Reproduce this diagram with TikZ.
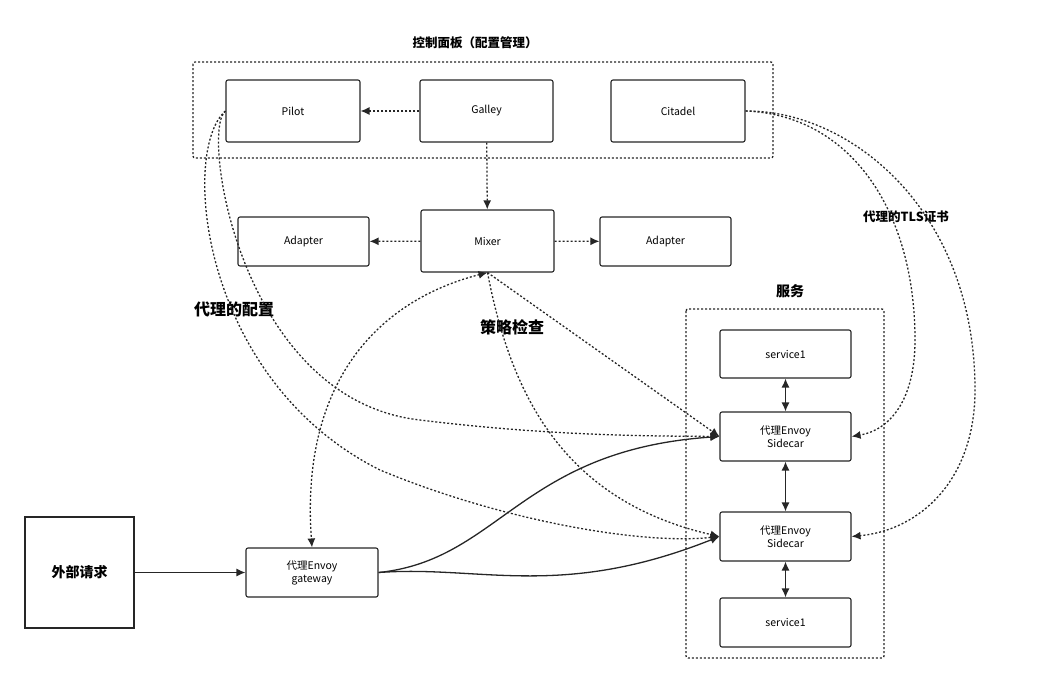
\documentclass[tikz,border=0pt]{standalone}
\usepackage{fontspec}
\setmainfont{Noto Sans CJK SC}
\usetikzlibrary{arrows.meta}
\begin{document}
\begin{tikzpicture}[x=1pt,y=-1pt,
  tip/.style={},
  box/.style={draw=black!85,line width=1.1pt,rounded corners=2pt,fill=white,font=\fontsize{10.5}{13}\selectfont,align=center,inner sep=0pt},
  grp/.style={draw=black!85,line width=1.3pt,dash pattern=on 2pt off 2pt,rounded corners=2pt},
  dar/.style={line width=1.3pt,dash pattern=on 2pt off 2pt,draw=black!85,-{Latex[length=9pt,width=8pt]}},
  sar/.style={line width=1.3pt,draw=black!85,-{Latex[length=9pt,width=8pt]}},
  lab/.style={font=\bfseries\fontsize{12.5}{14}\selectfont},
  big/.style={font=\bfseries\fontsize{16}{18}\selectfont}]
\useasboundingbox (0,0) rectangle (1051,683);
\draw[grp] (193,62) rectangle (773,158);
\node[lab] (t1) at (475,43) {控制面板（配置管理）};
\draw[grp] (686,309) rectangle (884,658);
\node[lab,font=\bfseries\fontsize{14}{16}\selectfont] (t2) at (790,291) {服务};
\newcommand{\bx}[6]{\node[box,minimum width=#4,minimum height=#5] (#1) at (#2,#3) {#6};}
\bx{pilot}{293}{111}{134}{62}{Pilot}
\bx{galley}{486.5}{111}{133}{62}{Galley}
\bx{citadel}{678}{111}{134}{62}{Citadel}
\bx{mixer}{487.5}{241}{133}{62}{Mixer}
\bx{adl}{303.5}{241.5}{131}{49}{Adapter}
\bx{adr}{665.5}{241.5}{131}{49}{Adapter}
\bx{s1}{785.5}{354}{131}{48}{service1}
\bx{sc1}{785.5}{436.5}{131}{49}{代理Envoy\\Sidecar}
\bx{sc2}{785.5}{536.5}{131}{49}{代理Envoy\\Sidecar}
\bx{s2}{785.5}{622.5}{131}{49}{service1}
\bx{gw}{312}{572.5}{132}{49}{代理Envoy\\gateway}
\node[box,draw,line width=1.6pt,rounded corners=0pt,minimum width=109,minimum height=111,font=\bfseries\fontsize{14}{16}\selectfont] (ext) at (79.5,572.5) {外部请求};
\node[big] (l1) at (234,309) {代理的配置};
\node[big] (l2) at (512,327) {策略检查};
\node[lab] (l3) at (906,217) {代理的TLS证书};
\draw[dar] (galley) -- (pilot);
\draw[dar] (galley) -- (mixer);
\draw[dar] (mixer) -- (adl);
\draw[dar] (mixer) -- (adr);
\draw[dar] (pilot.west) .. controls (200,130) and (240,400) .. (420,420) .. controls (550,436) and (650,436) .. (sc1.west);
\draw[dar] (pilot.west) .. controls (180,150) and (200,380) .. (380,470) .. controls (500,520) and (640,545) .. (sc2.west);
\draw[dar] (citadel.east) .. controls (850,115) and (915,210) .. (915,340) .. controls (915,400) and (890,430) .. (sc1.east);
\draw[dar] (citadel.east) .. controls (850,110) and (975,210) .. (975,390) .. controls (975,480) and (920,530) .. (sc2.east);
\draw[dar,{Latex[length=9pt,width=8pt]}-{Latex[length=9pt,width=8pt]}] (mixer.south) .. controls (380,300) and (300,380) .. (gw.north);
\draw[dar] (mixer.south) -- (sc1.west);
\draw[dar] (mixer.south) .. controls (510,390) and (560,500) .. (sc2.west);
\draw[sar] (gw.east) .. controls (500,560) and (520,450) .. (sc1.west);
\draw[sar] (gw.east) .. controls (480,565) and (560,600) .. (sc2.west);
\draw[sar] (ext) -- (gw);
\draw[sar,{Latex[length=9pt,width=8pt]}-{Latex[length=9pt,width=8pt]}] (s1) -- (sc1);
\draw[sar,{Latex[length=9pt,width=8pt]}-{Latex[length=9pt,width=8pt]}] (sc1) -- (sc2);
\draw[sar,{Latex[length=9pt,width=8pt]}-{Latex[length=9pt,width=8pt]}] (sc2) -- (s2);
\end{tikzpicture}
\end{document}
